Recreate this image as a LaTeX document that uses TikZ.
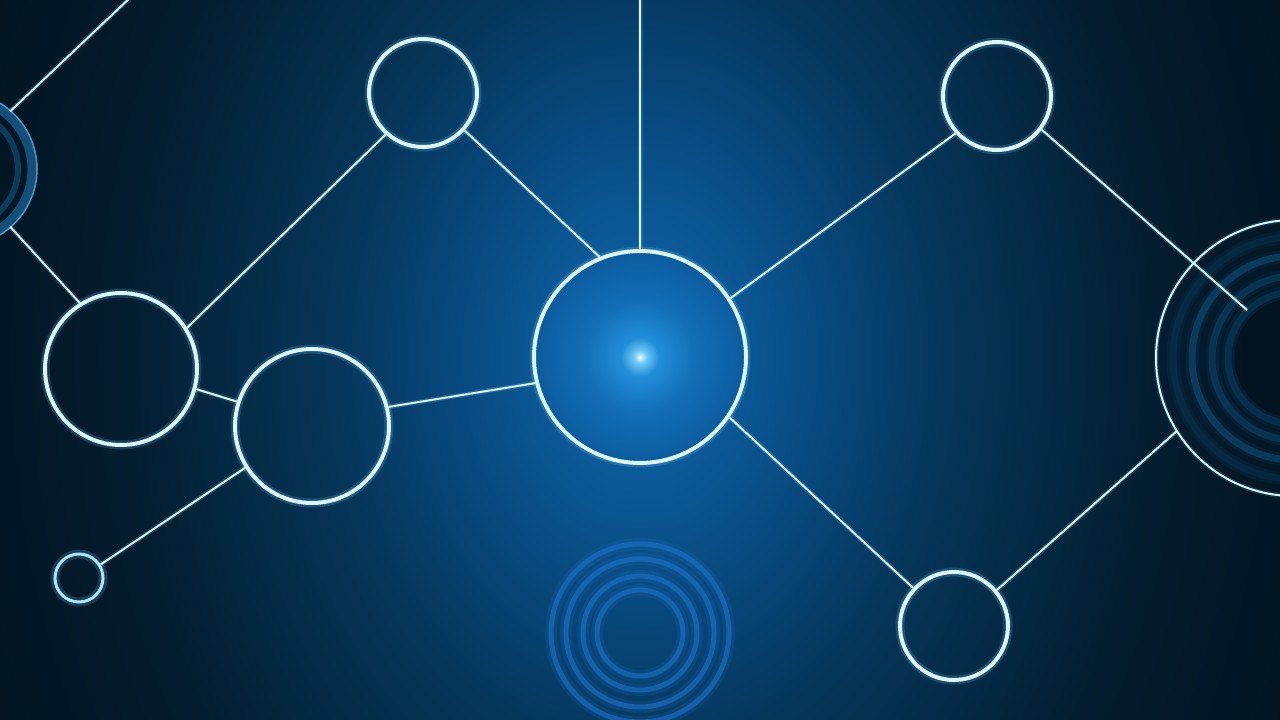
\documentclass[tikz,border=0pt]{standalone}
\usepackage{tikz}

\definecolor{bgdeep}{HTML}{020F1A}
\definecolor{ringcol}{HTML}{DCF6FF}
\definecolor{haze}{HTML}{6FD0FF}
\definecolor{dimblue}{HTML}{134F78}
\definecolor{deepring}{HTML}{0E4C74}
\definecolor{pulse}{HTML}{1B6FC4}

\pgfdeclareradialshading{backglow}{\pgfpoint{0bp}{0bp}}{%
  color(0bp)=(rgb,255:red,13;green,102;blue,173);
  color(3.75bp)=(rgb,255:red,10;green,85;blue,144);
  color(6.5bp)=(rgb,255:red,7;green,69;blue,119);
  color(9.7bp)=(rgb,255:red,5;green,53;blue,88);
  color(12.8bp)=(rgb,255:red,4;green,42;blue,69);
  color(16bp)=(rgb,255:red,3;green,29;blue,48);
  color(22bp)=(rgb,255:red,2;green,20;blue,32);
  color(25bp)=(bgdeep);
  color(50bp)=(bgdeep)}

\pgfdeclareradialshading{coreglow}{\pgfpoint{0bp}{0bp}}{%
  color(0bp)=(rgb,255:red,235;green,250;blue,255);
  color(1.5bp)=(rgb,255:red,110;green,200;blue,245);
  color(4.5bp)=(rgb,255:red,34;green,142;blue,216);
  color(13bp)=(rgb,255:red,18;green,110;blue,182);
  color(25bp)=(rgb,255:red,11;green,92;blue,158);
  color(50bp)=(rgb,255:red,11;green,92;blue,158)}

\begin{document}
\begin{tikzpicture}[x=1pt, y=-1pt,
    main node/.style={circle, draw=ringcol, line width=4pt, inner sep=0pt,
      preaction={draw=haze, line width=9pt, opacity=.2}},
    ring node/.style={circle, draw=ringcol, line width=2pt, inner sep=0pt,
      preaction={draw=haze, line width=5pt, opacity=.15}},
    edge ring/.style={circle, draw=dimblue, line width=9pt, inner sep=0pt},
    every edge/.style={draw=ringcol, line width=2pt,
      preaction={draw=haze, line width=5pt, opacity=.18}}]

  \useasboundingbox (0,0) rectangle (1280,720);
  \clip (0,0) rectangle (1280,720);
  \fill[bgdeep] (0,0) rectangle (1280,720);
  \shade[shading=backglow] (640,357) ellipse (800pt and 1050pt);

  % decorative rings
  \coordinate (pulse) at (640,633);
  \foreach \r in {89,74,57,43}
    \draw[pulse, line width=5pt, opacity=.65,
          preaction={draw=pulse, line width=12pt, opacity=.18}] (pulse) circle (\r pt);

  \node[main node, minimum size=212pt, shade, shading=coreglow] (hub) at (640,357) {};
  \node[main node, minimum size=108pt] (nw) at (423,93) {};
  \node[main node, minimum size=108pt] (ne) at (997,96) {};
  \node[main node, minimum size=152pt] (w) at (121,369) {};
  \node[main node, minimum size=154pt] (sw) at (312,426) {};
  \node[main node, minimum size=48pt, line width=3pt, draw=haze!45!ringcol] (dot) at (79,578) {};
  \node[main node, minimum size=108pt] (se) at (954,626) {};
  \node[ring node, minimum size=276pt] (east) at (1294,358) {};
  \node[edge ring, minimum size=144pt] (west) at (-40,169) {};

  \fill[bgdeep, opacity=.5] (east.center) circle (60pt);
  \foreach \r/\o in {121/.2, 102/.6, 82/.45, 66/.35}
    \draw[deepring, line width=7pt, opacity=\o,
          preaction={draw=deepring, line width=13pt, opacity=.15}] (east.center) circle (\r pt);
  \draw[deepring, line width=6pt, opacity=.7] (west.center) circle (58pt);
  \draw[haze!60!dimblue, line width=1.5pt] (west.center) circle (77pt);

  \coordinate (top) at (640,-5);
  \coordinate (corner) at (133,-5);
  \coordinate (eastend) at (1247,310);

  \path
    (hub) edge (top)
    (hub.112) edge (nw.-42)
    (hub.33) edge (ne.222)
    (hub.194) edge (sw.14)
    (hub.-34) edge (se.137)
    (nw.228) edge (w.32)
    (w.-15) edge (sw.162)
    (sw.212) edge (dot.32)
    (w.122) edge (west.-49)
    (west.49) edge (corner)
    (ne.-37) edge (eastend)
    (se.40) edge (east.212);
\end{tikzpicture}
\end{document}
